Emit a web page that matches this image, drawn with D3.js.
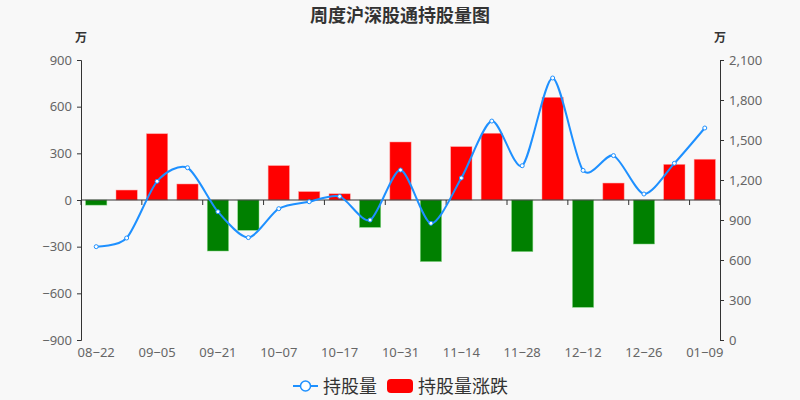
<!DOCTYPE html>
<html>
<head>
<meta charset="utf-8">
<script src="https://cdn.jsdelivr.net/npm/d3@7/dist/d3.min.js"></script>
<style>
  html, body { margin: 0; padding: 0; background: #f8f8f8; }
  #chart { width: 800px; height: 400px; }
  text { font-family: "Noto Sans", "Noto Sans CJK SC", sans-serif; }
</style>
</head>
<body>
<div id="chart"></div>
<script>
'use strict'

////////////////////////////////////////
//////////////// Data //////////////////
////////////////////////////////////////

const dates = ['08-22', '08-29', '09-05', '09-12', '09-21', '09-26', '10-07', '10-10', '10-17', '10-24',
  '10-31', '11-07', '11-14', '11-21', '11-28', '12-05', '12-12', '12-19', '12-26', '01-02', '01-09'];

// 持股量 (万)
const holdings = [700, 765, 1190, 1292, 962, 768, 985, 1037, 1077, 900,
  1275, 875, 1215, 1642, 1307, 1965, 1272, 1383, 1095, 1325, 1590];

// 持股量涨跌 (万)
const changes = [-33, 64, 426, 103, -328, -195, 221, 54, 40, -176,
  373, -396, 343, 429, -332, 660, -690, 109, -283, 229, 262];

const leftTicks = [-900, -600, -300, 0, 300, 600, 900];
const rightTicks = [0, 300, 600, 900, 1200, 1500, 1800, 2100];

////////////////////////////////////////
////////////// SVG Setup ///////////////
////////////////////////////////////////

const width = 800, height = 400;
const margin = { top: 60, right: 80, bottom: 60, left: 81 };

const svg = d3.select('#chart').append('svg')
  .attr('width', width)
  .attr('height', height);

svg.append('rect')
  .attr('width', width)
  .attr('height', height)
  .attr('fill', '#f8f8f8');

const x = d3.scaleBand()
  .domain(dates)
  .range([margin.left, width - margin.right]);

const yLeft = d3.scaleLinear()
  .domain([-900, 900])
  .range([height - margin.bottom, margin.top]);

const yRight = d3.scaleLinear()
  .domain([0, 2100])
  .range([height - margin.bottom, margin.top]);

////////////////////////////////////////
/////////////// Axes ///////////////////
////////////////////////////////////////

const axisColor = '#333';
const labelColor = '#666';
const tickFont = 13;

const leftAxis = svg.append('g')
  .attr('transform', `translate(${margin.left},0)`)
  .call(d3.axisLeft(yLeft).tickValues(leftTicks).tickSize(4).tickPadding(5)
    .tickFormat(d => d3.format(',')(d).replace('-', '\u2212')));

const rightAxis = svg.append('g')
  .attr('transform', `translate(${width - margin.right},0)`)
  .call(d3.axisRight(yRight).tickValues(rightTicks).tickSize(4).tickPadding(5)
    .tickFormat(d3.format(',')));

[leftAxis, rightAxis].forEach(g => {
  g.select('.domain').attr('stroke', axisColor);
  g.selectAll('.tick line').attr('stroke', axisColor);
  g.selectAll('.tick text')
    .attr('fill', labelColor)
    .attr('font-size', tickFont)
    .attr('font-family', '"Noto Sans", sans-serif');
});

// unit labels
svg.append('text')
  .attr('x', margin.left)
  .attr('y', 42)
  .attr('text-anchor', 'middle')
  .attr('font-size', 12)
  .attr('font-weight', 'bold')
  .attr('fill', axisColor)
  .text('万');

svg.append('text')
  .attr('x', width - margin.right)
  .attr('y', 42)
  .attr('text-anchor', 'middle')
  .attr('font-size', 12)
  .attr('font-weight', 'bold')
  .attr('fill', axisColor)
  .text('万');

////////////////////////////////////////
/////////////// Bars ///////////////////
////////////////////////////////////////

const barWidth = x.bandwidth() * 0.7;

svg.append('g')
  .selectAll('rect')
  .data(changes)
  .join('rect')
  .attr('x', (d, i) => x(dates[i]) + (x.bandwidth() - barWidth) / 2)
  .attr('y', d => yLeft(Math.max(0, d)))
  .attr('width', barWidth)
  .attr('height', d => Math.abs(yLeft(d) - yLeft(0)))
  .attr('fill', d => d >= 0 ? '#ff0000' : '#008000')
  .attr('stroke', d => d >= 0 ? 'rgba(255,160,160,0.8)' : 'rgba(140,220,140,0.8)')
  .attr('stroke-width', 0.6);

// x axis on zero line
const zeroY = yLeft(0);
svg.append('line')
  .attr('x1', margin.left)
  .attr('x2', width - margin.right)
  .attr('y1', zeroY)
  .attr('y2', zeroY)
  .attr('stroke', axisColor);

svg.append('g')
  .selectAll('line')
  .data(dates.filter((d, i) => i % 2 === 0))
  .join('line')
  .attr('x1', d => x(d))
  .attr('x2', d => x(d))
  .attr('y1', zeroY)
  .attr('y2', zeroY + 5)
  .attr('stroke', axisColor);

svg.append('line')
  .attr('x1', width - margin.right)
  .attr('x2', width - margin.right)
  .attr('y1', zeroY)
  .attr('y2', zeroY + 5)
  .attr('stroke', axisColor);

svg.append('g')
  .selectAll('text')
  .data(dates.filter((d, i) => i % 2 === 0))
  .join('text')
  .attr('x', d => x(d) + x.bandwidth() / 2)
  .attr('y', height - margin.bottom + 17)
  .attr('text-anchor', 'middle')
  .attr('font-size', tickFont)
  .attr('fill', labelColor)
  .text(d => d.replace('-', '\u2212'));

////////////////////////////////////////
/////////////// Line ///////////////////
////////////////////////////////////////

const lineColor = '#1e90ff';

const line = d3.line()
  .x((d, i) => x(dates[i]) + x.bandwidth() / 2)
  .y(d => yRight(d))
  .curve(d3.curveCardinal.tension(0.2));

svg.append('path')
  .datum(holdings)
  .attr('d', line)
  .attr('fill', 'none')
  .attr('stroke', lineColor)
  .attr('stroke-width', 2);

svg.append('g')
  .selectAll('circle')
  .data(holdings)
  .join('circle')
  .attr('cx', (d, i) => x(dates[i]) + x.bandwidth() / 2)
  .attr('cy', d => yRight(d))
  .attr('r', 2)
  .attr('fill', '#fff')
  .attr('stroke', lineColor)
  .attr('stroke-width', 1);

////////////////////////////////////////
////////////// Title ///////////////////
////////////////////////////////////////

svg.append('text')
  .attr('x', width / 2)
  .attr('y', 22)
  .attr('text-anchor', 'middle')
  .attr('font-size', 18)
  .attr('font-weight', 'bold')
  .attr('fill', '#333')
  .attr('font-family', '"Noto Sans CJK SC", sans-serif')
  .text('周度沪深股通持股量图');

////////////////////////////////////////
////////////// Legend //////////////////
////////////////////////////////////////

const legend = svg.append('g').attr('transform', 'translate(0,386)');

legend.append('line')
  .attr('x1', 293).attr('x2', 318)
  .attr('y1', 0).attr('y2', 0)
  .attr('stroke', lineColor)
  .attr('stroke-width', 2);

legend.append('circle')
  .attr('cx', 305.5).attr('cy', 0).attr('r', 5)
  .attr('fill', '#fff')
  .attr('stroke', lineColor)
  .attr('stroke-width', 1.5);

legend.append('text')
  .attr('x', 323).attr('y', 6.5)
  .attr('font-size', 18)
  .attr('fill', '#333')
  .attr('font-family', '"Noto Sans CJK SC", sans-serif')
  .text('持股量');

legend.append('rect')
  .attr('x', 387).attr('y', -7)
  .attr('width', 26).attr('height', 14)
  .attr('rx', 4)
  .attr('fill', '#ff0000');

legend.append('text')
  .attr('x', 418).attr('y', 6.5)
  .attr('font-size', 18)
  .attr('fill', '#333')
  .attr('font-family', '"Noto Sans CJK SC", sans-serif')
  .text('持股量涨跌');
</script>
</body>
</html>
